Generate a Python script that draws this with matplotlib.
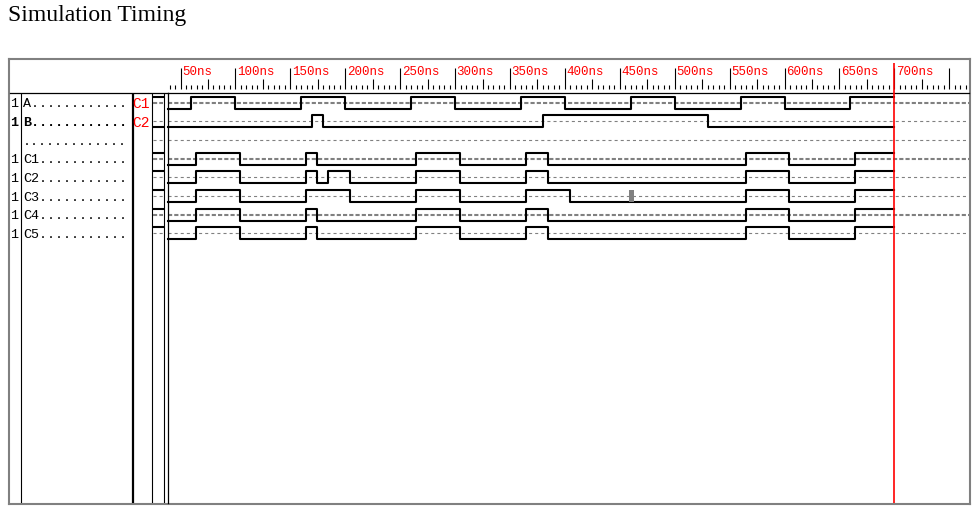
import numpy as np
import matplotlib.pyplot as plt

plt.rcParams['lines.scale_dashes'] = False

# rows of the timing panel (the empty name is the spacer row)
names = ['A', 'B', '', 'C1', 'C2', 'C3', 'C4', 'C5']
widths = ['1', '1', '', '1', '1', '1', '1', '1']
markers = ['C1', 'C2', '', '', '', '', '', '']

# transition times [ns], every signal starts low
edges_A = [60, 100, 160, 200, 260, 300, 360, 400, 460, 500, 560, 600, 660]
edges_B = [170, 180, 380, 530]
edges_C1 = [64.5, 104.5, 164.5, 174.5, 264.5, 304.5, 364.5, 384.5, 564.5, 604.5, 664.5]
edges_C2 = [64.5, 104.5, 164.5, 174.5, 184.5, 204.5, 264.5, 304.5, 364.5, 384.5,
            564.5, 604.5, 664.5]
edges_C3 = [64.5, 104.5, 164.5, 204.5, 264.5, 304.5, 364.5, 404.5, 564.5, 604.5, 664.5]
edges_C4 = edges_C1
edges_C5 = edges_C1
waves = [edges_A, edges_B, None, edges_C1, edges_C2, edges_C3, edges_C4, edges_C5]

t_end = 700        # simulation cursor
mark_t = 460.8     # grey marker on C3
mark_row = 5

ruler_major = [50, 100, 150, 200, 250, 300, 350, 400, 450, 500, 550, 600, 650, 700]
ruler_labels = ['%dns' % t for t in ruler_major]

#- layout (pixels)
W, H = 976, 509
px_per_ns = 1.0982
x_ns0 = 125.6          # pixel of t = 0
row_y0 = 102.7         # pixel of first row
row_h = 18.66
amp = 6 / row_h

def box(x0, y0, x1, y1):
    return [x0 / W, 1 - y1 / H, (x1 - x0) / W, (y1 - y0) / H]

def ns(px):
    return (px - x_ns0) / px_per_ns

def row(py):
    return (py - row_y0) / row_h

fig = plt.figure(figsize=(W / 100, H / 100), dpi=100)
fig.text(8 / W, 1 - 21 / H, 'Simulation Timing', family='Liberation Serif',
         fontsize=17, va='baseline')

frame = fig.add_axes(box(9, 59, 970, 504))
frame.set_xticks([])
frame.set_yticks([])
for s in frame.spines.values():
    s.set_color('#808080')
    s.set_linewidth(1.5)

ax_l = fig.add_axes(box(10, 93, 168, 503))
ax = fig.add_axes(box(168, 93, 969, 503))
ax_r = fig.add_axes(box(168, 60, 969, 93))

for a in (ax_l, ax, ax_r):
    a.set_facecolor('none')
    a.set_xticks([])
    a.set_yticks([])
    for s in a.spines.values():
        s.set_visible(False)

ax.set_xlim(ns(168), ns(969))
ax.set_ylim(row(503), row(93))
ax_l.set_xlim(10, 168)
ax_l.set_ylim(row(503), row(93))
ax_r.set_xlim(ns(168), ns(969))
ax_r.set_ylim(93, 60)

ax.spines['top'].set_visible(True)
ax.spines['left'].set_visible(True)
ax_l.spines['top'].set_visible(True)
for s in (ax.spines['top'], ax.spines['left'], ax_l.spines['top']):
    s.set_color('black')
    s.set_linewidth(0.9)

dash_thick = [True, False, False, True, False, False, True, False]
mono = 'Liberation Mono'

#- left panel
for xv, lw in [(21, 0.8), (132.5, 1.6), (151.5, 0.8), (163.5, 0.8)]:
    ax_l.axvline(xv, color='black', lw=lw)

for i, nm in enumerate(names):
    fw = 'bold' if nm == 'B' else 'normal'
    label = (nm + '.' * 13)[:13]
    ax_l.text(23, i + 0.25, label, family=mono, fontsize=9.6, va='baseline', fontweight=fw)
    ax_l.text(10.5, i + 0.25, widths[i], family=mono, fontsize=9.6, va='baseline',
              fontweight=fw)
    if markers[i]:
        ax_l.text(132.5, i + 0.3, markers[i], family=mono, fontsize=10.5,
                  color='red', va='baseline')

    if dash_thick[i]:
        st = dict(color='#808080', lw=1.5, linestyle=(0, (3, 1.5)))
    else:
        st = dict(color='#808080', lw=0.8, linestyle=(0, (2.2, 2.2)))
    ax_l.hlines(i, 152.5, 163, **st)
    ax.axhline(i, zorder=1, **st)

#- waveforms
t0 = ns(168)
for i, e in enumerate(waves):
    if e is None:
        continue
    t = np.concatenate([[t0], e, [t_end]])
    lv = np.arange(len(e) + 1) % 2
    lv = np.append(lv, lv[-1])
    y = i + np.where(lv == 1, -amp, amp)
    ax.step(t, y, where='post', color='black', lw=1.5, zorder=3, clip_on=False)
    # value at the cursor
    ax_l.hlines(y[-1], 151.5, 163.5, color='black', lw=1.5)

ax.bar(mark_t, 2 * amp, bottom=mark_row - amp, width=4.5, color='#808080', zorder=4)

#- ruler
ticks = np.arange(40, 770, 5)
tops = np.where(ticks % 50 == 0, 68, np.where(ticks % 25 == 0, 79, 85))
ax_r.vlines(ticks, tops, 89, color='black', lw=0.8)
for t, lbl in zip(ruler_major, ruler_labels):
    ax_r.text(t + 1.4, 75, lbl, family=mono, fontsize=9, color='red', va='baseline')

ax.axvline(t_end, color='red', lw=1.2, zorder=5)
ax_r.vlines(t_end, 63, 93, color='red', lw=1.2, zorder=5)

plt.savefig('out.png', dpi=100)
